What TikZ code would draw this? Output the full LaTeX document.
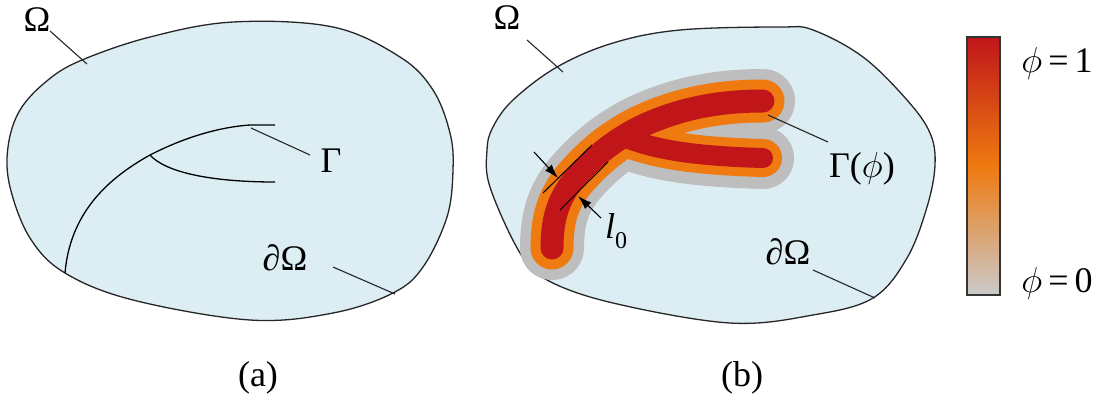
\RequirePackage{fix-cm}
\documentclass[tikz,border=0pt]{standalone}
\usepackage{fontspec}
\setmainfont{Liberation Serif}
\usetikzlibrary{arrows.meta}
\definecolor{domainfill}{HTML}{DCEEF3}
\definecolor{crackred}{HTML}{C0161A}
\definecolor{crackorange}{HTML}{EE7A10}
\definecolor{crackgrey}{HTML}{BEBEBE}
\definecolor{bargrey}{HTML}{CACACA}
\tikzset{
  regionshape/.style={draw=black!85, line width=1.3pt, fill=domainfill},
  pointer/.style={draw=black!85, line width=1.1pt},
  crackline/.style={draw=black, line width=1.3pt},
  lbl/.style={inner sep=0pt, font=\fontsize{36}{38}\selectfont},
  dimarrow/.style={draw=black, line width=1.1pt, -{Latex[length=14pt,width=9pt]}},
  layergrey/.style={draw=crackgrey, line cap=round, line join=round},
  layerorange/.style={draw=crackorange, line cap=round, line join=round},
  layerred/.style={draw=crackred, line cap=round, line join=round},
}
\begin{document}
\begin{tikzpicture}[x=1pt,y=-1pt]
\useasboundingbox (0,0) rectangle (1100,400);

% ---------- (a) ----------
\draw[regionshape] plot[smooth cycle, tension=0.6] coordinates {
 (82,60) (150,37) (233,22) (333,27) (400,57) (433,90) (450,133) (453,170)
 (447,217) (423,267) (393,293) (333,313) (250,320) (133,300) (65,273)
 (30,238) (10,187) (8,147) (20,110) (48,80)};
\draw[crackline] (65,273) .. controls (70,215) and (105,180) .. (150,155)
  .. controls (185,137) and (220,127) .. (250,125) -- (275,125);
\draw[crackline] (150,155) .. controls (165,172) and (210,182) .. (275,182);

\node[lbl] (omA) at (37,20) {Ω};
\coordinate (omAs) at (50,31); \coordinate (omAe) at (87,64);
\draw[pointer] (omAs) -- (omAe);
\node[lbl] (gam) at (331,161) {Γ};
\coordinate (gamS) at (310,155); \coordinate (gamE) at (251,128);
\draw[pointer] (gamS) -- (gamE);
\node[lbl] (dOmA) at (285,258) {∂Ω};
\coordinate (dOmAs) at (333,267); \coordinate (dOmAe) at (395,294);
\draw[pointer] (dOmAs) -- (dOmAe);
\node[lbl] (capA) at (258,378) {(a)};

% ---------- (b) ----------
\draw[regionshape] plot[smooth cycle, tension=0.6] coordinates {
 (557,67) (613,43) (680,30) (780,27) (813,30) (863,57) (907,100) (930,133)
 (935,165) (927,207) (907,258) (873,298) (813,315) (730,323) (613,303)
 (547,280) (520,253) (490,187) (487,150) (493,127) (513,100)};

% crack layers
\foreach \lay/\wt/\wb in {layergrey/64/62, layerorange/43/38, layerred/23/20}{
  \draw[\lay, line width=\wt pt] (552,248) .. controls (552,215) and (560,195) .. (578,175)
     .. controls (598,153) and (615,140) .. (640,127)
     .. controls (680,108) and (720,101) .. (763,101);
  \draw[\lay, line width=\wb pt] (626,138) .. controls (655,149) and (690,156) .. (763,158);
}

% l0 dimension
\coordinate (l1a) at (543,193); \coordinate (l1b) at (592,145);
\coordinate (l2a) at (560,210); \coordinate (l2b) at (608,162);
\draw[crackline, line width=1pt] (l1a) -- (l1b);
\draw[crackline, line width=1pt] (l2a) -- (l2b);
\coordinate (ar1s) at (534,152); \coordinate (ar1e) at (558,178);
\coordinate (ar2s) at (601,218); \coordinate (ar2e) at (578,196);
\draw[dimarrow] (ar1s) -- (ar1e);
\draw[dimarrow] (ar2s) -- (ar2e);
\node[lbl] (lz) at (616,231) {\textit{l}\raisebox{-0.28em}{\fontsize{24}{24}\selectfont 0}};

\node[lbl] (omB) at (507,18) {Ω};
\coordinate (omBs) at (527,40); \coordinate (omBe) at (563,72);
\draw[pointer] (omBs) -- (omBe);
\node[lbl] (gphi) at (862,169) {Γ($\phi$)};
\coordinate (gphiS) at (828,142); \coordinate (gphiE) at (768,115);
\draw[pointer] (gphiS) -- (gphiE);
\node[lbl] (dOmB) at (788,252) {∂Ω};
\coordinate (dOmBs) at (813,270); \coordinate (dOmBe) at (875,298);
\draw[pointer] (dOmBs) -- (dOmBe);
\node[lbl] (capB) at (742,378) {(b)};

% ---------- colour bar ----------
\shade[top color=crackred, bottom color=crackorange] (967,37) rectangle (1000,166);
\shade[top color=crackorange, bottom color=bargrey] (967,166) rectangle (1000,295);
\draw[draw=black!80, line width=1.6pt] (967,37) rectangle (1000,295);
\node[lbl] (phione) at (1057,63) {$\phi$\,=\,1};
\node[lbl] (phizero) at (1057,283) {$\phi$\,=\,0};
\end{tikzpicture}
\end{document}
